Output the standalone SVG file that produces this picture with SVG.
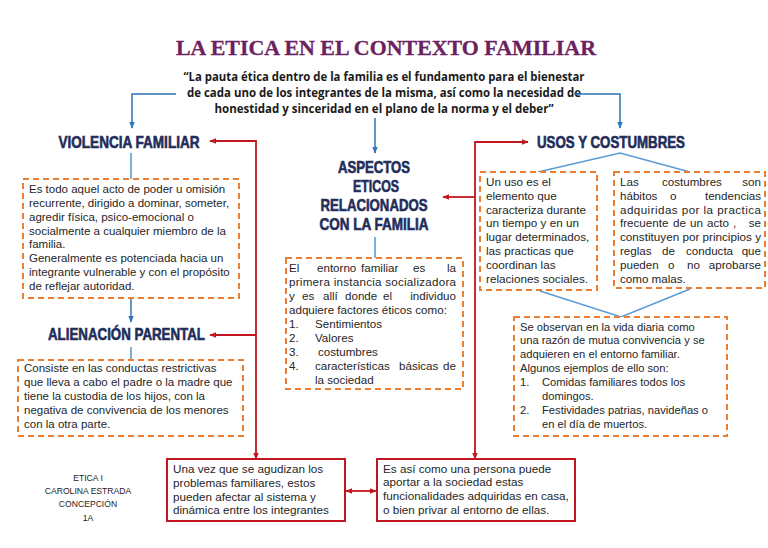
<svg xmlns="http://www.w3.org/2000/svg" width="768" height="548" viewBox="0 0 768 548">
<defs>
<marker id="ab" viewBox="0 0 10 10" refX="9" refY="5" markerWidth="7" markerHeight="7" orient="auto" markerUnits="userSpaceOnUse"><path d="M0,1 L10,5 L0,9 z" fill="#2e75b6"/></marker>
<marker id="ar" viewBox="0 0 10 10" refX="9" refY="5" markerWidth="7" markerHeight="7" orient="auto-start-reverse" markerUnits="userSpaceOnUse"><path d="M0,1 L10,5 L0,9 z" fill="#c0161f"/></marker>
</defs>
<style>
.title{font-family:"Liberation Serif",serif;font-weight:bold;font-size:21.6px;fill:#6d1f5f;stroke:#6d1f5f;stroke-width:0.3}
.quote{font-family:"Open Sans","Liberation Sans",sans-serif;font-weight:bold;font-size:11.5px;fill:#1a1a1a}
.head{font-family:"Liberation Sans",sans-serif;font-weight:bold;font-size:16.5px;fill:#1f2d5a;stroke:#1f2d5a;stroke-width:0.6}
.t{font-family:"Liberation Sans",sans-serif;fill:#262626}
.s115{font-size:11.5px}.s12{font-size:11.6px}.s117{font-size:11.7px}.s112{font-size:11.2px}
.dash{fill:#fff;stroke:#ed7d31;stroke-width:2;stroke-dasharray:6 4}
.solid{fill:#fff;stroke:#c0161f;stroke-width:2}
.bl{fill:none;stroke:#2e75b6;stroke-width:1.5}
.bl2{fill:none;stroke:#5b9bd5;stroke-width:1.6}
.rd{fill:none;stroke:#c0161f;stroke-width:1.8}
.sig{font-family:"Liberation Sans",sans-serif;font-size:8.6px;fill:#222}
.e{text-anchor:end}
</style>
<rect width="768" height="548" fill="#fff"/>

<g id="title"><text class="title" x="386" y="55" text-anchor="middle" textLength="420" lengthAdjust="spacingAndGlyphs">LA ETICA EN EL CONTEXTO FAMILIAR</text></g>

<g id="quote" class="quote" text-anchor="middle">
<text x="384" y="81" textLength="401" lengthAdjust="spacingAndGlyphs">“La pauta ética dentro de la familia es el fundamento para el bienestar</text>
<text x="384" y="97" textLength="394" lengthAdjust="spacingAndGlyphs">de cada uno de los integrantes de la misma, así como la necesidad de</text>
<text x="384" y="113" textLength="339" lengthAdjust="spacingAndGlyphs">honestidad y sinceridad en el plano de la norma y el deber”</text>
</g>

<g id="connectors">
<polyline class="bl" points="176,94 132,94 132,128" marker-end="url(#ab)"/>
<polyline class="bl" points="574,94 620,94 620,128" marker-end="url(#ab)"/>
<line class="bl" x1="375" y1="118" x2="375" y2="153" marker-end="url(#ab)"/>
<line class="bl2" x1="131" y1="153" x2="131" y2="179"/>
<line class="bl" x1="131" y1="298" x2="131" y2="322" marker-end="url(#ab)"/>
<line class="bl2" x1="131" y1="347" x2="131" y2="360"/>
<line class="bl2" x1="375" y1="237" x2="375" y2="258"/>
<polyline class="bl2" points="538,172 620,153 690,172"/>
<polyline class="bl2" points="540,291 621,317 690,289"/>
<polyline class="rd" points="256,459 256,141 210,141" marker-start="url(#ar)" marker-end="url(#ar)"/>
<line class="rd" x1="256" y1="335" x2="210" y2="335" marker-end="url(#ar)"/>
<polyline class="rd" points="475,459 475,142 528,142" marker-start="url(#ar)" marker-end="url(#ar)"/>
<line class="rd" x1="475" y1="197" x2="443" y2="197" marker-end="url(#ar)"/>
<line class="rd" x1="346" y1="491" x2="376" y2="491" marker-start="url(#ar)" marker-end="url(#ar)"/>
</g>

<g id="violencia"><text class="head" x="129" y="148" text-anchor="middle" textLength="141" lengthAdjust="spacingAndGlyphs">VIOLENCIA FAMILIAR</text></g>

<g id="violencia-def">
<rect class="dash" x="23" y="179" width="216" height="119"/>
<text class="t s115" x="29">
<tspan x="29" y="193">Es todo aquel acto de poder u omisión</tspan>
<tspan x="29" y="207">recurrente, dirigido a dominar, someter,</tspan>
<tspan x="29" y="221">agredir física, psico-emocional o</tspan>
<tspan x="29" y="235">socialmente a cualquier miembro de la</tspan>
<tspan x="29" y="248">familia.</tspan>
<tspan x="29" y="262">Generalmente es potenciada hacia un</tspan>
<tspan x="29" y="276">integrante vulnerable y con el propósito</tspan>
<tspan x="29" y="290">de reflejar autoridad.</tspan>
</text>
</g>

<g id="alienacion"><text class="head" x="126.5" y="340" text-anchor="middle" textLength="157" lengthAdjust="spacingAndGlyphs">ALIENACIÓN PARENTAL</text></g>

<g id="alienacion-def">
<rect class="dash" x="18" y="360" width="225" height="76"/>
<text class="t s115">
<tspan x="24" y="372">Consiste en las conductas restrictivas</tspan>
<tspan x="24" y="386">que lleva a cabo el padre o la madre que</tspan>
<tspan x="24" y="400">tiene la custodia de los hijos, con la</tspan>
<tspan x="24" y="414">negativa de convivencia de los menores</tspan>
<tspan x="24" y="428">con la otra parte.</tspan>
</text>
</g>

<g id="aspectos" class="head" text-anchor="middle">
<text x="374" y="173" textLength="72" lengthAdjust="spacingAndGlyphs">ASPECTOS</text>
<text x="376" y="192" textLength="46" lengthAdjust="spacingAndGlyphs">ETICOS</text>
<text x="374" y="211" textLength="107" lengthAdjust="spacingAndGlyphs">RELACIONADOS</text>
<text x="374" y="230" textLength="109" lengthAdjust="spacingAndGlyphs">CON LA FAMILIA</text>
</g>

<g id="aspectos-def">
<rect class="dash" x="286" y="258" width="177" height="131"/>
<g class="t s12">
<text y="272"><tspan x="289">El</tspan><tspan x="317">entorno</tspan><tspan x="361">familiar</tspan><tspan x="413">es</tspan><tspan x="456" class="e">la</tspan></text>
<text x="289" y="286" textLength="167" lengthAdjust="spacing">primera instancia socializadora</text>
<text y="300"><tspan x="289">y</tspan><tspan x="302">es</tspan><tspan x="323">allí</tspan><tspan x="345">donde</tspan><tspan x="383">el</tspan><tspan x="456" class="e">individuo</tspan></text>
<text x="289" y="314">adquiere factores éticos como:</text>
<text y="328"><tspan x="289">1.</tspan><tspan x="315">Sentimientos</tspan></text>
<text y="342"><tspan x="289">2.</tspan><tspan x="315">Valores</tspan></text>
<text y="356"><tspan x="289">3.</tspan><tspan x="318">costumbres</tspan></text>
<text y="370"><tspan x="289">4.</tspan><tspan x="315">características</tspan><tspan x="399">básicas</tspan><tspan x="456" class="e">de</tspan></text>
<text x="315" y="384">la sociedad</text>
</g>
</g>

<g id="usos"><text class="head" x="611" y="148" text-anchor="middle" textLength="148" lengthAdjust="spacingAndGlyphs">USOS Y COSTUMBRES</text></g>

<g id="usos-def">
<rect class="dash" x="480" y="172" width="117" height="118"/>
<text class="t s117">
<tspan x="486" y="186">Un uso es el</tspan>
<tspan x="486" y="199.8">elemento que</tspan>
<tspan x="486" y="213.6">caracteriza durante</tspan>
<tspan x="486" y="227.4">un tiempo y en un</tspan>
<tspan x="486" y="241.2">lugar determinados,</tspan>
<tspan x="486" y="255">las practicas que</tspan>
<tspan x="486" y="268.8">coordinan las</tspan>
<tspan x="486" y="282.6">relaciones sociales.</tspan>
</text>
</g>

<g id="costumbres-def">
<rect class="dash" x="614" y="172" width="151" height="116"/>
<g class="t s12">
<text y="186"><tspan x="620">Las</tspan><tspan x="662">costumbres</tspan><tspan x="761" class="e">son</tspan></text>
<text y="199.8"><tspan x="620">hábitos</tspan><tspan x="670">o</tspan><tspan x="761" class="e">tendencias</tspan></text>
<text x="620" y="213.6" textLength="141" lengthAdjust="spacing">adquiridas por la practica</text>
<text y="227.4"><tspan x="620">frecuente</tspan><tspan x="673">de</tspan><tspan x="690">un</tspan><tspan x="707">acto</tspan><tspan x="733">,</tspan><tspan x="761" class="e">se</tspan></text>
<text x="620" y="241.2" textLength="141" lengthAdjust="spacingAndGlyphs">constituyen por principios y</text>
<text y="255"><tspan x="620">reglas</tspan><tspan x="662">de</tspan><tspan x="686">conducta</tspan><tspan x="761" class="e">que</tspan></text>
<text y="268.8"><tspan x="620">pueden</tspan><tspan x="668">o</tspan><tspan x="687">no</tspan><tspan x="761" class="e">aprobarse</tspan></text>
<text x="620" y="282.6">como malas.</text>
</g>
</g>

<g id="ejemplos-def">
<rect class="dash" x="514" y="317" width="213" height="119"/>
<g class="t s112">
<text x="520" y="330.5">Se observan en la vida diaria como</text>
<text x="520" y="344.4">una razón de mutua convivencia y se</text>
<text x="520" y="358.3">adquieren en el entorno familiar.</text>
<text x="520" y="372.2">Algunos ejemplos de ello son:</text>
<text y="386.1"><tspan x="520">1.</tspan><tspan x="542">Comidas familiares todos los</tspan></text>
<text x="542" y="400">domingos.</text>
<text y="413.9"><tspan x="520">2.</tspan><tspan x="542">Festividades patrias, navideñas o</tspan></text>
<text x="542" y="427.8">en el día de muertos.</text>
</g>
</g>

<g id="consecuencia">
<rect class="solid" x="167" y="459" width="178" height="62"/>
<text class="t s117">
<tspan x="173" y="473">Una vez que se agudizan los</tspan>
<tspan x="173" y="487">problemas familiares, estos</tspan>
<tspan x="173" y="500.5">pueden afectar al sistema y</tspan>
<tspan x="173" y="514">dinámica entre los integrantes</tspan>
</text>
</g>

<g id="aporte">
<rect class="solid" x="377" y="459" width="198" height="62"/>
<text class="t s117">
<tspan x="383" y="472.5">Es así como una persona puede</tspan>
<tspan x="383" y="486">aportar a la sociedad estas</tspan>
<tspan x="383" y="500">funcionalidades adquiridas en casa,</tspan>
<tspan x="383" y="514">o bien privar al entorno de ellas.</tspan>
</text>
</g>

<g id="firma" class="sig" text-anchor="middle">
<text x="88" y="481">ETICA I</text>
<text x="88" y="494">CAROLINA ESTRADA</text>
<text x="88" y="507">CONCEPCIÓN</text>
<text x="88" y="521">1A</text>
</g>
</svg>
